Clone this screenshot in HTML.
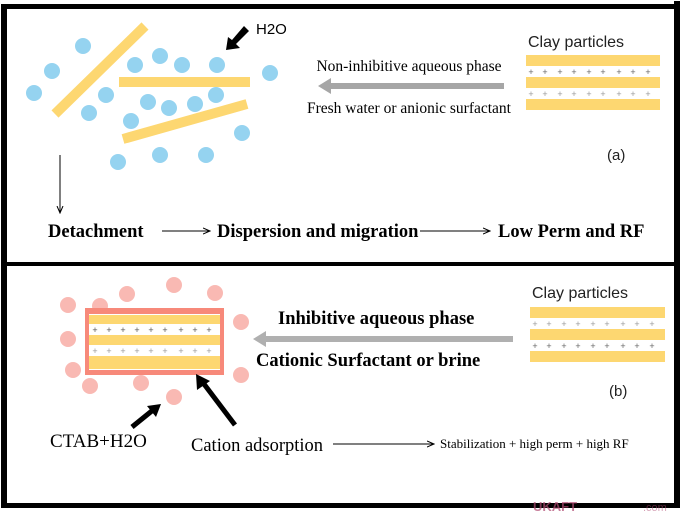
<!DOCTYPE html>
<html><head><meta charset="utf-8"><style>
html,body{margin:0;padding:0;background:#fff;}
svg{display:block;}
.s{font-family:"Liberation Serif",serif;}
.a{font-family:"Liberation Sans",sans-serif;}
</style></head><body>
<svg width="685" height="513" viewBox="0 0 685 513" xmlns="http://www.w3.org/2000/svg">
<defs>
<marker id="th" markerWidth="8" markerHeight="8" refX="7" refY="4" orient="auto" markerUnits="userSpaceOnUse"><path d="M0,1 L7,4 L0,7" fill="none" stroke="#000" stroke-width="1"/></marker>
</defs>
<rect x="0" y="0" width="685" height="513" fill="#fff"/>
<!-- frame -->
<rect x="1" y="4" width="6" height="503" fill="#000"/>
<rect x="1" y="4" width="679" height="5" fill="#000"/>
<rect x="674" y="1" width="6" height="506" fill="#000"/>
<rect x="1" y="262" width="679" height="4" fill="#000"/>
<rect x="1" y="503" width="679" height="5" fill="#000"/>

<!-- TOP PANEL -->
<g fill="#95d3f0">
<circle cx="34" cy="93" r="8"/><circle cx="52" cy="71" r="8"/><circle cx="83" cy="46" r="8"/>
<circle cx="106" cy="95" r="8"/><circle cx="89" cy="113" r="8"/><circle cx="135" cy="65" r="8"/>
<circle cx="160" cy="56" r="8"/><circle cx="182" cy="65" r="8"/><circle cx="217" cy="65" r="8"/>
<circle cx="270" cy="73" r="8"/><circle cx="148" cy="102" r="8"/><circle cx="169" cy="108" r="8"/>
<circle cx="195" cy="104" r="8"/><circle cx="216" cy="95" r="8"/><circle cx="131" cy="121" r="8"/>
<circle cx="242" cy="133" r="8"/><circle cx="118" cy="162" r="8"/><circle cx="160" cy="155" r="8"/>
<circle cx="206" cy="155" r="8"/>
</g>
<g stroke="#fdd771" stroke-width="10">
<line x1="55" y1="114" x2="145" y2="26"/>
<line x1="119" y1="82" x2="250" y2="82"/>
<line x1="123" y1="139" x2="247" y2="104"/>
</g>
<polygon points="244,26 249,31 236,44 240,48 226,50 228,37 232,40" fill="#000"/>
<text x="256" y="34" class="a" font-size="15">H2O</text>

<text x="409" y="71" class="s" font-size="15.5" text-anchor="middle">Non-inhibitive aqueous phase</text>
<rect x="328" y="83" width="176" height="6" fill="#a6a6a6"/>
<polygon points="318,86 331,78 331,94" fill="#a6a6a6"/>
<text x="409" y="113" class="s" font-size="15.5" text-anchor="middle">Fresh water or anionic surfactant</text>

<text x="528" y="47" class="a" font-size="16" fill="#222">Clay particles</text>
<g fill="#fdd771">
<rect x="526" y="55" width="134" height="11"/>
<rect x="526" y="77" width="134" height="11"/>
<rect x="526" y="99" width="134" height="11"/>
</g>
<g class="a" font-size="9" text-anchor="middle">
<text x="531 545 560 574 589 603 619 633 648" y="75" fill="#666">+++++++++</text>
<text x="531 545 560 574 589 603 619 633 648" y="97" fill="#999">+++++++++</text>
</g>
<text x="607" y="160" class="a" font-size="15" fill="#222">(a)</text>

<line x1="60" y1="155" x2="60" y2="213" stroke="#000" stroke-width="1" marker-end="url(#th)"/>
<text x="48" y="237" class="s" font-size="18.5" font-weight="bold">Detachment</text>
<line x1="162" y1="231" x2="210" y2="231" stroke="#000" stroke-width="1" marker-end="url(#th)"/>
<text x="217" y="237" class="s" font-size="18.5" font-weight="bold">Dispersion and migration</text>
<line x1="420" y1="231" x2="490" y2="231" stroke="#000" stroke-width="1" marker-end="url(#th)"/>
<text x="498" y="237" class="s" font-size="18.5" font-weight="bold">Low Perm and RF</text>

<!-- BOTTOM PANEL -->
<g fill="#f9b9b3">
<circle cx="100" cy="306" r="8"/><circle cx="127" cy="294" r="8"/><circle cx="68" cy="305" r="8"/>
<circle cx="174" cy="285" r="8"/><circle cx="215" cy="293" r="8"/><circle cx="68" cy="339" r="8"/>
<circle cx="241" cy="322" r="8"/><circle cx="73" cy="370" r="8"/><circle cx="90" cy="386" r="8"/>
<circle cx="141" cy="383" r="8"/><circle cx="174" cy="397" r="8"/><circle cx="241" cy="375" r="8"/>
</g>
<rect x="85" y="308" width="139" height="67" fill="#f7897a"/>
<rect x="89" y="314" width="131" height="56" fill="#fff"/>
<g fill="#fdd771">
<rect x="89" y="315" width="131" height="9"/>
<rect x="89" y="335" width="131" height="10"/>
<rect x="89" y="356" width="131" height="13"/>
</g>
<g class="a" font-size="9" text-anchor="middle">
<text x="95 109 123 137 151 165 181 195 209" y="333" fill="#555">+++++++++</text>
<text x="95 109 123 137 151 165 181 195 209" y="354" fill="#999">+++++++++</text>
</g>

<line x1="132" y1="427" x2="153" y2="410" stroke="#000" stroke-width="5"/>
<polygon points="161,404 147,406 156,417" fill="#000"/>
<line x1="235" y1="425" x2="204" y2="384" stroke="#000" stroke-width="5"/>
<polygon points="196,374 197,390 210,381" fill="#000"/>

<text x="50" y="447" class="s" font-size="19">CTAB+H2O</text>
<text x="191" y="451" class="s" font-size="18.5">Cation adsorption</text>
<line x1="333" y1="444" x2="434" y2="444" stroke="#000" stroke-width="1" marker-end="url(#th)"/>
<text x="440" y="448" class="s" font-size="13">Stabilization + high perm + high RF</text>

<text x="278" y="324" class="s" font-size="18.5" font-weight="bold">Inhibitive aqueous phase</text>
<rect x="264" y="336" width="249" height="6" fill="#b0b0b0"/>
<polygon points="253,339 266,331 266,347" fill="#b0b0b0"/>
<text x="256" y="366" class="s" font-size="18.5" font-weight="bold">Cationic Surfactant or brine</text>

<text x="532" y="298" class="a" font-size="16" fill="#222">Clay particles</text>
<g fill="#fdd771">
<rect x="530" y="307" width="135" height="11"/>
<rect x="530" y="329" width="135" height="11"/>
<rect x="530" y="351" width="135" height="11"/>
</g>
<g class="a" font-size="9" text-anchor="middle">
<text x="535 549 564 578 593 607 623 637 652" y="327" fill="#999">+++++++++</text>
<text x="535 549 564 578 593 607 623 637 652" y="349" fill="#666">+++++++++</text>
</g>
<text x="609" y="396" class="a" font-size="15" fill="#222">(b)</text>

<text x="533" y="511" class="a" font-size="13" font-weight="bold" fill="#b04a72" opacity="0.7">UKAFT</text>
<text x="643" y="511" class="a" font-size="11" fill="#b04a72" opacity="0.5">.com</text>
</svg>
</body></html>
